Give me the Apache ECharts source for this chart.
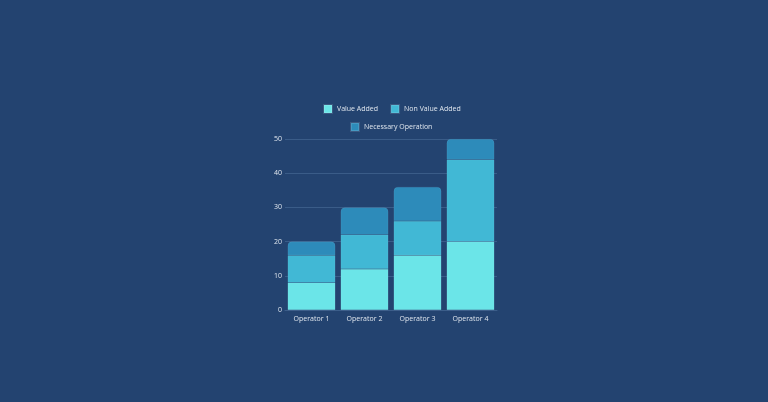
<!DOCTYPE html>
<html><head><meta charset="utf-8">
<script src="https://cdn.jsdelivr.net/npm/echarts@6/dist/echarts.min.js"></script>
<style>html,body{margin:0;padding:0;background:#234370;}#c{width:768px;height:402px;}</style>
</head><body><div id="c"></div>
<script>
const categories = ['Operator 1','Operator 2','Operator 3','Operator 4'];
const valueAdded = [8, 12, 16, 20];
const nonValueAdded = [8, 10, 10, 24];
const necessaryOperation = [4, 8, 10, 6];
const seriesNames = ['Value Added','Non Value Added','Necessary Operation'];
const colors = ['#6be5e8','#41b8d5','#2d8bba'];

const chart = echarts.init(document.getElementById('c'));
const dataSets = [valueAdded, nonValueAdded, necessaryOperation];
const legendText = {color: '#dfe6ee', fontSize: 7, fontFamily: 'Open Sans'};
chart.setOption({
  backgroundColor: '#234370',
  color: colors,
  textStyle: {fontFamily: 'Open Sans'},
  legend: [{
    left: 323, top: 104, padding: 0, itemWidth: 8, itemHeight: 8, itemGap: 12, itemTextGap: 5,
    icon: 'rect', textStyle: legendText, data: seriesNames.slice(0, 2)
  }, {
    left: 350, top: 122, padding: 0, itemWidth: 8, itemHeight: 8, itemGap: 12, itemTextGap: 5,
    icon: 'rect', textStyle: legendText, data: seriesNames.slice(2)
  }],
  grid: {left: 285, right: 271, top: 139, bottom: 92},
  xAxis: {
    type: 'category', data: categories,
    axisLine: {lineStyle: {color: '#3c5e8a'}},
    axisTick: {show: false},
    axisLabel: {color: '#dfe6ee', fontSize: 7, margin: 5, interval: 0}
  },
  yAxis: {
    type: 'value', min: 0, max: 50, interval: 10,
    axisLine: {show: false}, axisTick: {show: false},
    axisLabel: {color: '#dfe6ee', fontSize: 7, margin: 3},
    splitLine: {lineStyle: {color: '#3a5c88', width: 1}}
  },
  series: dataSets.map((d, i) => ({
    name: seriesNames[i], type: 'bar', stack: 'total', data: d,
    barCategoryGap: '10%',
    itemStyle: {
      color: colors[i],
      borderColor: 'rgba(255,255,255,0.12)', borderWidth: 0.5,
      borderRadius: i === 2 ? [4,4,0,0] : 0
    }
  }))
});
</script></body></html>
